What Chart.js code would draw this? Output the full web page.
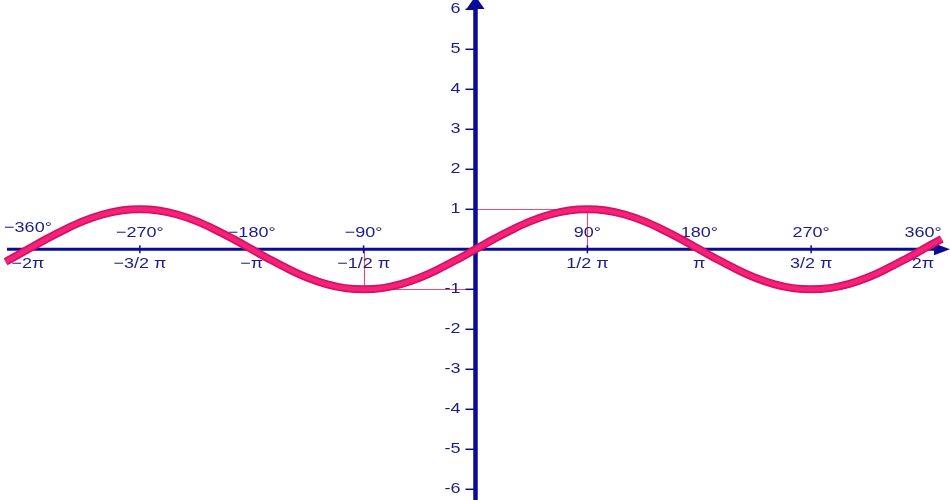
<!DOCTYPE html>
<html>
<head>
<meta charset="utf-8">
<title>Sine curve</title>
<script src="https://cdn.jsdelivr.net/npm/chart.js@4.4.1/dist/chart.umd.min.js"></script>
<style>
  html, body { margin: 0; padding: 0; background: #fff; }
  canvas { display: block; }
</style>
</head>
<body>
<canvas id="chart" width="950" height="500"></canvas>
<script>
// curve, x in degrees
const curveDegrees = [-378, -375, -360, -345, -330, -315, -300, -285, -270, -255, -240, -225, -210, -195,
  -180, -165, -150, -135, -120, -105, -90, -75, -60, -45, -30, -15, 0, 15, 30, 45, 60, 75, 90,
  105, 120, 135, 150, 165, 180, 195, 210, 225, 240, 255, 270, 285, 300, 315, 330, 345, 360, 375];
const curveValues = [-0.31, -0.26, 0, 0.26, 0.5, 0.71, 0.87, 0.97, 1, 0.97, 0.87, 0.71, 0.5, 0.26,
  0, -0.26, -0.5, -0.71, -0.87, -0.97, -1, -0.97, -0.87, -0.71, -0.5, -0.26, 0, 0.26, 0.5, 0.71, 0.87, 0.97, 1,
  0.97, 0.87, 0.71, 0.5, 0.26, 0, -0.26, -0.5, -0.71, -0.87, -0.97, -1, -0.97, -0.87, -0.71, -0.5, -0.26, 0, 0.26];

// x axis ticks: degrees above the axis, radians below
const degreeTicks = [-360, -270, -180, -90, 90, 180, 270, 360];
const degreeLabels = ['−360°', '−270°', '−180°', '−90°', '90°', '180°', '270°', '360°'];
const piLabels = ['−2π', '−3/2 π', '−π', '−1/2 π', '1/2 π', 'π', '3/2 π', '2π'];

// y axis ticks
const yTicks = [6, 5, 4, 3, 2, 1, -1, -2, -3, -4, -5, -6];
const yTickLabels = ['6', '5', '4', '3', '2', '1', '-1', '-2', '-3', '-4', '-5', '-6'];

// thin guide lines to the maximum and minimum
const guidePoints = [[90, 1], [-90, -1]];

const NAVY = '#0b0b98';
const TEXT = '#1c1c8a';
const GUIDE = '#e8506e';

const points = curveDegrees.map((d, i) => ({ x: d, y: curveValues[i] }));

// text in the picture is a little stretched sideways
function wideText(ctx, text, px, py, align) {
  ctx.save();
  ctx.translate(px, py);
  ctx.scale(1.2, 1);
  ctx.textAlign = align;
  ctx.fillText(text, 0, 0);
  ctx.restore();
}

const axesPlugin = {
  id: 'axes',
  beforeDatasetsDraw(chart) {
    const { ctx, scales: { x, y } } = chart;
    const x0 = x.getPixelForValue(0);
    const y0 = y.getPixelForValue(0);
    ctx.save();

    // guide lines
    ctx.strokeStyle = GUIDE;
    ctx.lineWidth = 1.2;
    guidePoints.forEach(([d, v]) => {
      const px = Math.round(x.getPixelForValue(d)) + 0.5;
      const py = Math.round(y.getPixelForValue(v)) + 0.5;
      ctx.beginPath();
      ctx.moveTo(x0, py);
      ctx.lineTo(px, py);
      ctx.lineTo(px, y0);
      ctx.stroke();
    });

    // x axis with arrow
    ctx.strokeStyle = NAVY;
    ctx.fillStyle = NAVY;
    ctx.lineWidth = 3;
    ctx.beginPath();
    ctx.moveTo(7, y0);
    ctx.lineTo(x.right - 12, y0);
    ctx.stroke();
    ctx.beginPath();
    ctx.moveTo(x.right, y0);
    ctx.lineTo(x.right - 16, y0 - 6);
    ctx.lineTo(x.right - 16, y0 + 6);
    ctx.closePath();
    ctx.fill();

    // x ticks
    ctx.lineWidth = 1.5;
    degreeTicks.forEach(d => {
      const px = x.getPixelForValue(d);
      ctx.beginPath();
      ctx.moveTo(px, y0 - 4);
      ctx.lineTo(px, y0 + 4);
      ctx.stroke();
    });

    // y axis with arrow
    ctx.lineWidth = 4.5;
    ctx.beginPath();
    ctx.moveTo(x0, y.bottom);
    ctx.lineTo(x0, y.top + 6);
    ctx.stroke();
    ctx.beginPath();
    ctx.moveTo(x0, y.top - 4);
    ctx.lineTo(x0 - 9, y.top + 9);
    ctx.lineTo(x0 + 9, y.top + 9);
    ctx.closePath();
    ctx.fill();

    // y ticks
    ctx.lineWidth = 1.5;
    yTicks.forEach(v => {
      const py = y.getPixelForValue(v);
      ctx.beginPath();
      ctx.moveTo(x0 - 10, py);
      ctx.lineTo(x0, py);
      ctx.stroke();
    });

    // labels
    ctx.fillStyle = TEXT;
    ctx.font = '15px "Liberation Sans", Arial, sans-serif';
    ctx.textBaseline = 'middle';
    yTicks.forEach((v, i) => {
      wideText(ctx, yTickLabels[i], x0 - 15, y.getPixelForValue(v), 'right');
    });
    degreeTicks.forEach((d, i) => {
      const px = x.getPixelForValue(d);
      const lift = d === -360 ? 21 : 16;
      wideText(ctx, degreeLabels[i], px, y0 - lift, 'center');
      wideText(ctx, piLabels[i], px, y0 + 15, 'center');
    });

    ctx.restore();
  }
};

new Chart(document.getElementById('chart'), {
  type: 'line',
  data: {
    datasets: [
      {
        // bright core, drawn on top
        data: points,
        borderColor: '#f7217c',
        borderWidth: 4.5,
        pointRadius: 0,
        tension: 0.4,
        fill: false
      },
      {
        // darker rim
        data: points,
        borderColor: '#d4135f',
        borderWidth: 8,
        pointRadius: 0,
        tension: 0.4,
        fill: false
      }
    ]
  },
  options: {
    responsive: false,
    animation: false,
    layout: { padding: 0 },
    plugins: {
      legend: { display: false },
      tooltip: { enabled: false }
    },
    scales: {
      x: { type: 'linear', min: -382.5, max: 381.7, display: false },
      y: { type: 'linear', min: -6.2675, max: 6.2325, display: false }
    }
  },
  plugins: [axesPlugin]
});
</script>
</body>
</html>
